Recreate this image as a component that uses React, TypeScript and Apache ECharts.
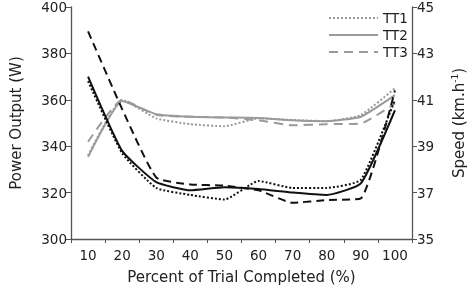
import React, { useEffect, useRef } from "react";
import * as echarts from "echarts";

const categories = ["10", "20", "30", "40", "50", "60", "70", "80", "90", "100"];

const powerTT1 = [368, 337, 322, 319, 317, 325, 322, 322, 325.5, 360];
const powerTT2 = [370, 338, 324.5, 321, 322.3, 321.5, 320, 319, 324, 355.5];
const powerTT3 = [389.5, 356, 326.5, 323.5, 323, 321, 315.6, 316.8, 317.5, 364];

const speedTT1 = [38.6, 41.0, 40.2, 39.95, 39.86, 40.2, 40.13, 40.08, 40.34, 41.5];
const speedTT2 = [38.54, 40.95, 40.38, 40.27, 40.24, 40.22, 40.12, 40.08, 40.27, 41.2];
const speedTT3 = [39.19, 41.0, 40.35, 40.27, 40.24, 40.12, 39.9, 39.95, 39.98, 40.84];

const powerTicks = { min: 300, max: 400, interval: 20 };
const speedTicks = { min: 35, max: 45, interval: 2 };

const FONT = "DejaVu Sans";
const GRAY = "#9a9a9a";
const BLACK = "#111111";
const AXIS = "#555555";
const TEXT = "#222222";

export default function App() {
  const ref = useRef<HTMLDivElement>(null);
  useEffect(() => {
    if (!ref.current) return;
    const chart = echarts.init(ref.current, undefined, { renderer: "svg" });
    const line = (name: string, data: number[], yIdx: number, color: string, type: any, width: number) => ({
      name,
      type: "line",
      yAxisIndex: yIdx,
      data,
      symbol: "none",
      smooth: 0.15,
      lineStyle: { color, type, width },
      itemStyle: { color },
      z: yIdx === 0 ? 3 : 2,
    });
    chart.setOption({
      animation: false,
      textStyle: { fontFamily: FONT },
      grid: { left: 70, right: 61, top: 7, bottom: 58, containLabel: false },
      legend: {
        data: ["TT1", "TT2", "TT3"],
        orient: "vertical",
        left: 323,
        top: 6,
        itemWidth: 49,
        itemHeight: 14,
        itemGap: 3,
        itemStyle: { opacity: 0 },
        textStyle: { fontFamily: FONT, fontSize: 13.5, color: TEXT, padding: [0, 0, 0, 0] },
      },
      xAxis: {
        type: "category",
        data: categories,
        boundaryGap: true,
        name: "Percent of Trial Completed (%)",
        nameLocation: "middle",
        nameGap: 30,
        nameTextStyle: { fontFamily: FONT, fontSize: 15, color: TEXT },
        axisLine: { lineStyle: { color: AXIS, width: 1.3 } },
        axisTick: { show: true, alignWithLabel: false, length: 4, lineStyle: { color: AXIS } },
        axisLabel: { fontFamily: FONT, fontSize: 13.5, color: TEXT, margin: 9, interval: 0 },
        splitLine: { show: false },
      },
      yAxis: [
        {
          type: "value",
          position: "left",
          ...powerTicks,
          name: "Power Output (W)",
          nameLocation: "middle",
          nameGap: 48,
          nameTextStyle: { fontFamily: FONT, fontSize: 15, color: TEXT },
          axisLine: { show: true, lineStyle: { color: AXIS, width: 1.3 } },
          axisTick: { show: true, length: 5, lineStyle: { color: AXIS } },
          axisLabel: { fontFamily: FONT, fontSize: 13.5, color: TEXT, margin: 4 },
          splitLine: { show: false },
        },
        {
          type: "value",
          position: "right",
          ...speedTicks,
          name: "Speed (km.h{sup|-1})",
          nameLocation: "middle",
          nameGap: 38,
          nameTextStyle: {
            fontFamily: FONT,
            fontSize: 15,
            color: TEXT,
            rich: { sup: { fontFamily: FONT, fontSize: 9, color: TEXT, verticalAlign: "top", padding: [0, 0, 8, 0] } },
          },
          axisLine: { show: true, lineStyle: { color: AXIS, width: 1.3 } },
          axisTick: { show: true, length: 5, lineStyle: { color: AXIS } },
          axisLabel: { fontFamily: FONT, fontSize: 13.5, color: TEXT, margin: 5 },
          splitLine: { show: false },
        },
      ],
      series: [
        line("TT1", speedTT1, 1, GRAY, "dotted", 2),
        line("TT2", speedTT2, 1, GRAY, "solid", 2),
        line("TT3", speedTT3, 1, GRAY, [9, 6], 2),
        line("TT1 Power", powerTT1, 0, BLACK, "dotted", 2),
        line("TT2 Power", powerTT2, 0, BLACK, "solid", 2),
        line("TT3 Power", powerTT3, 0, BLACK, [8, 5], 2),
      ],
    });
    return () => chart.dispose();
  }, []);
  return <div ref={ref} style={{ position: "fixed", left: 0, top: 0, width: 474, height: 297 }} />;
}
